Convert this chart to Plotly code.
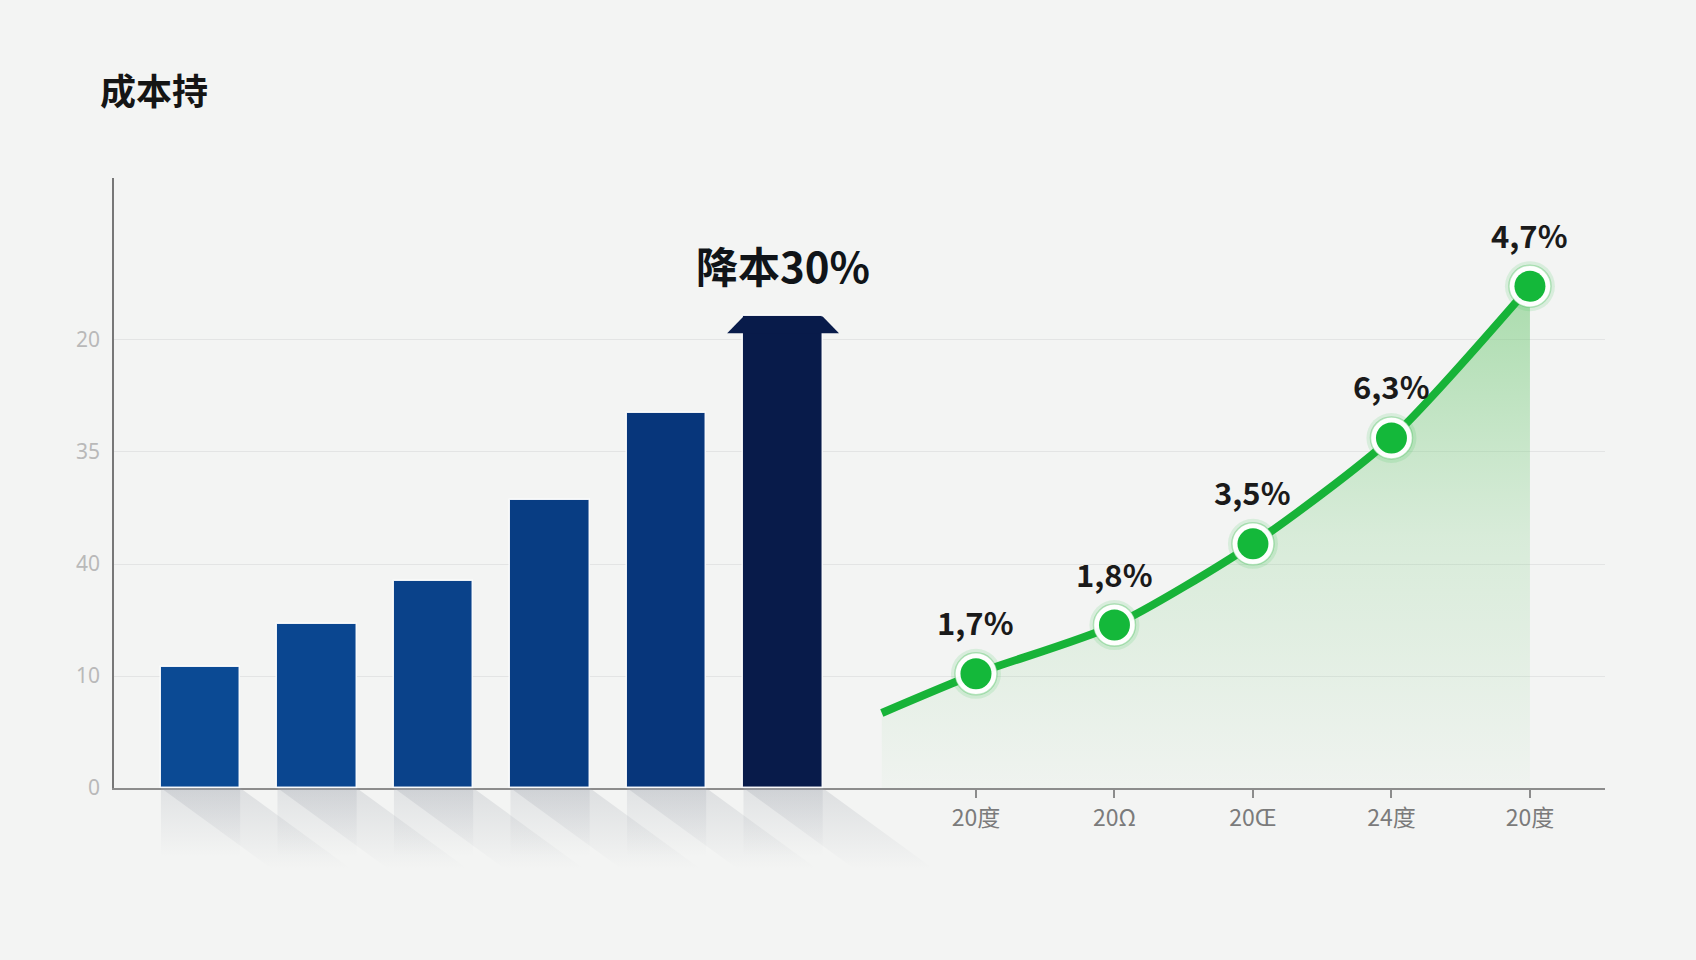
import plotly.graph_objects as go

# ---------------- data ----------------
title_text = "成本持"
bar_values = [1.08, 1.46, 1.85, 2.57, 3.35, 4.21]
bar_colors = ["#0b4a94", "#0a4690", "#0a428a", "#083d83", "#07367b", "#081b4a"]
bar_note = "降本30%"

y_tick_vals = [0, 1, 2, 3, 4]
y_tick_text = ["0", "10", "40", "35", "20"]

line_values = [1.02, 1.455, 2.18, 3.125, 4.48]
line_lead_value = 0.67
line_labels = ["1,7%", "1,8%", "3,5%", "6,3%", "4,7%"]
x_tick_text = ["20度", "20Ω", "20Œ", "24度", "20度"]

# ---------------- layout constants ----------------
BG = "#f3f4f3"
BAR_W = 0.68
LEAD_OFFSET = -0.68
GREEN = "#14b83a"
LINE_GREEN = "#17b338"
CJK = "Noto Sans CJK SC"

bar_x = list(range(len(bar_values)))
line_x = list(range(len(line_values)))

fig = go.Figure()

# reflections / cast shadows below the axis (on y3)
DEPTH = 0.72
SHIFT = 0.95
for i, v in enumerate(bar_values):
    x0, x1 = i - BAR_W / 2, i + BAR_W / 2
    # straight reflection
    fig.add_trace(go.Scatter(
        x=[x0, x1, x1, x0, x0], y=[0, 0, -DEPTH * 0.85, -DEPTH * 0.85, 0],
        xaxis="x", yaxis="y3", mode="lines", line=dict(width=0),
        fill="toself",
        fillgradient=dict(type="vertical", start=-DEPTH * 0.85, stop=0,
                          colorscale=[[0, "rgba(165,170,180,0)"], [1, "rgba(165,170,180,0.24)"]]),
        hoverinfo="skip", showlegend=False))
    # slanted cast shadow
    fig.add_trace(go.Scatter(
        x=[x0, x1, x1 + SHIFT, x0 + SHIFT, x0], y=[0, 0, -DEPTH, -DEPTH, 0],
        xaxis="x", yaxis="y3", mode="lines", line=dict(width=0),
        fill="toself",
        fillgradient=dict(type="vertical", start=-DEPTH, stop=0,
                          colorscale=[[0, "rgba(155,160,170,0)"], [1, "rgba(155,160,170,0.25)"]]),
        hoverinfo="skip", showlegend=False))

# bars
fig.add_trace(go.Bar(
    x=bar_x, y=bar_values, width=BAR_W, xaxis="x", yaxis="y",
    marker=dict(color=bar_colors, line=dict(color="rgba(255,255,255,0.9)", width=1.5)),
    hoverinfo="skip", showlegend=False))

# line with gradient fill
lx = [LEAD_OFFSET] + line_x
ly = [line_lead_value] + line_values
fig.add_trace(go.Scatter(
    x=lx, y=ly, xaxis="x2", yaxis="y", mode="lines",
    line=dict(color=LINE_GREEN, width=8, shape="spline", smoothing=0.7),
    fill="tozeroy",
    fillgradient=dict(type="vertical", start=0, stop=max(line_values),
                      colorscale=[[0, "rgba(120,205,125,0.03)"], [0.5, "rgba(120,205,125,0.22)"],
                                  [1, "rgba(110,200,115,0.55)"]]),
    hoverinfo="skip", showlegend=False))

# markers: glow, white ring, green core
fig.add_trace(go.Scatter(x=line_x, y=line_values, xaxis="x2", yaxis="y", mode="markers",
                         marker=dict(size=50, color="rgba(40,190,70,0.13)", line=dict(width=0)),
                         hoverinfo="skip", showlegend=False))
fig.add_trace(go.Scatter(x=line_x, y=line_values, xaxis="x2", yaxis="y", mode="markers",
                         marker=dict(size=42, color="rgba(255,255,255,0.97)",
                                     line=dict(width=1.5, color="rgba(60,185,80,0.35)")),
                         hoverinfo="skip", showlegend=False))
fig.add_trace(go.Scatter(x=line_x, y=line_values, xaxis="x2", yaxis="y", mode="markers",
                         marker=dict(size=31, color=GREEN, line=dict(width=0)),
                         hoverinfo="skip", showlegend=False))

# annotations
annotations = []
for xi, v, t in zip(line_x, line_values, line_labels):
    annotations.append(dict(x=xi, y=v, xref="x2", yref="y", text=t, showarrow=False,
                            yshift=52, yanchor="middle",
                            font=dict(family=CJK, size=31, color="#1a1a1a", weight="bold")))
last = len(bar_values) - 1
annotations.append(dict(x=last, y=bar_values[last], xref="x", yref="y", text=bar_note,
                        showarrow=False, yshift=52, yanchor="middle",
                        font=dict(family=CJK, size=42, color="#101418", weight="bold")))

# arrow wings on last bar
WING = 0.14
DROP = 0.15
top = bar_values[last]
bx0, bx1 = last - BAR_W / 2, last + BAR_W / 2
path = (f"M {bx0} {top} L {bx1} {top} L {bx1 + WING} {top - DROP} L {bx1} {top - DROP} "
        f"L {bx0} {top - DROP} L {bx0 - WING} {top - DROP} Z")
shapes = [dict(type="path", path=path, xref="x", yref="y",
               fillcolor=bar_colors[last], line=dict(width=0), layer="above")]

fig.update_layout(
    width=1696, height=960,
    paper_bgcolor=BG, plot_bgcolor=BG,
    margin=dict(l=114, r=91, t=178, b=80),
    title=dict(text=title_text, x=100 / 1696, y=1 - 92 / 960, xref="container",
               yref="container", xanchor="left", yanchor="middle",
               font=dict(family=CJK, size=36, color="#151515", weight="bold")),
    xaxis=dict(range=[-0.743, 12.055], anchor="y", showgrid=False, zeroline=False,
               showticklabels=False, ticks="", showline=True, linecolor="#8c8c8c", linewidth=2),
    xaxis2=dict(range=[-6.224, 4.542], overlaying="x", anchor="y", side="bottom",
                tickvals=line_x, ticktext=x_tick_text, ticks="outside", ticklen=9,
                tickwidth=1.5, tickcolor="#8c8c8c", showgrid=False, zeroline=False,
                showline=False, tickfont=dict(family=CJK, size=23, color="#7b7b7b")),
    yaxis=dict(domain=[0.131, 1], range=[0, 5.446], anchor="x",
               tickvals=y_tick_vals, ticktext=y_tick_text, ticks="",
               showgrid=True, gridcolor="#e3e4e4", gridwidth=1.2, zeroline=False,
               showline=True, linecolor="#777777", linewidth=1.5, ticklabelstandoff=8,
               tickfont=dict(family="Noto Sans", size=21, color="#b9b9b9")),
    yaxis3=dict(domain=[0, 0.131], range=[-0.821, 0], anchor="x", visible=False),
    annotations=annotations, shapes=shapes,
    bargap=0, showlegend=False,
)

fig.write_html(
    "out.html",
    config={"displayModeBar": False},
    post_script="document.body.style.margin='0';document.body.style.background='%s';" % BG,
)
